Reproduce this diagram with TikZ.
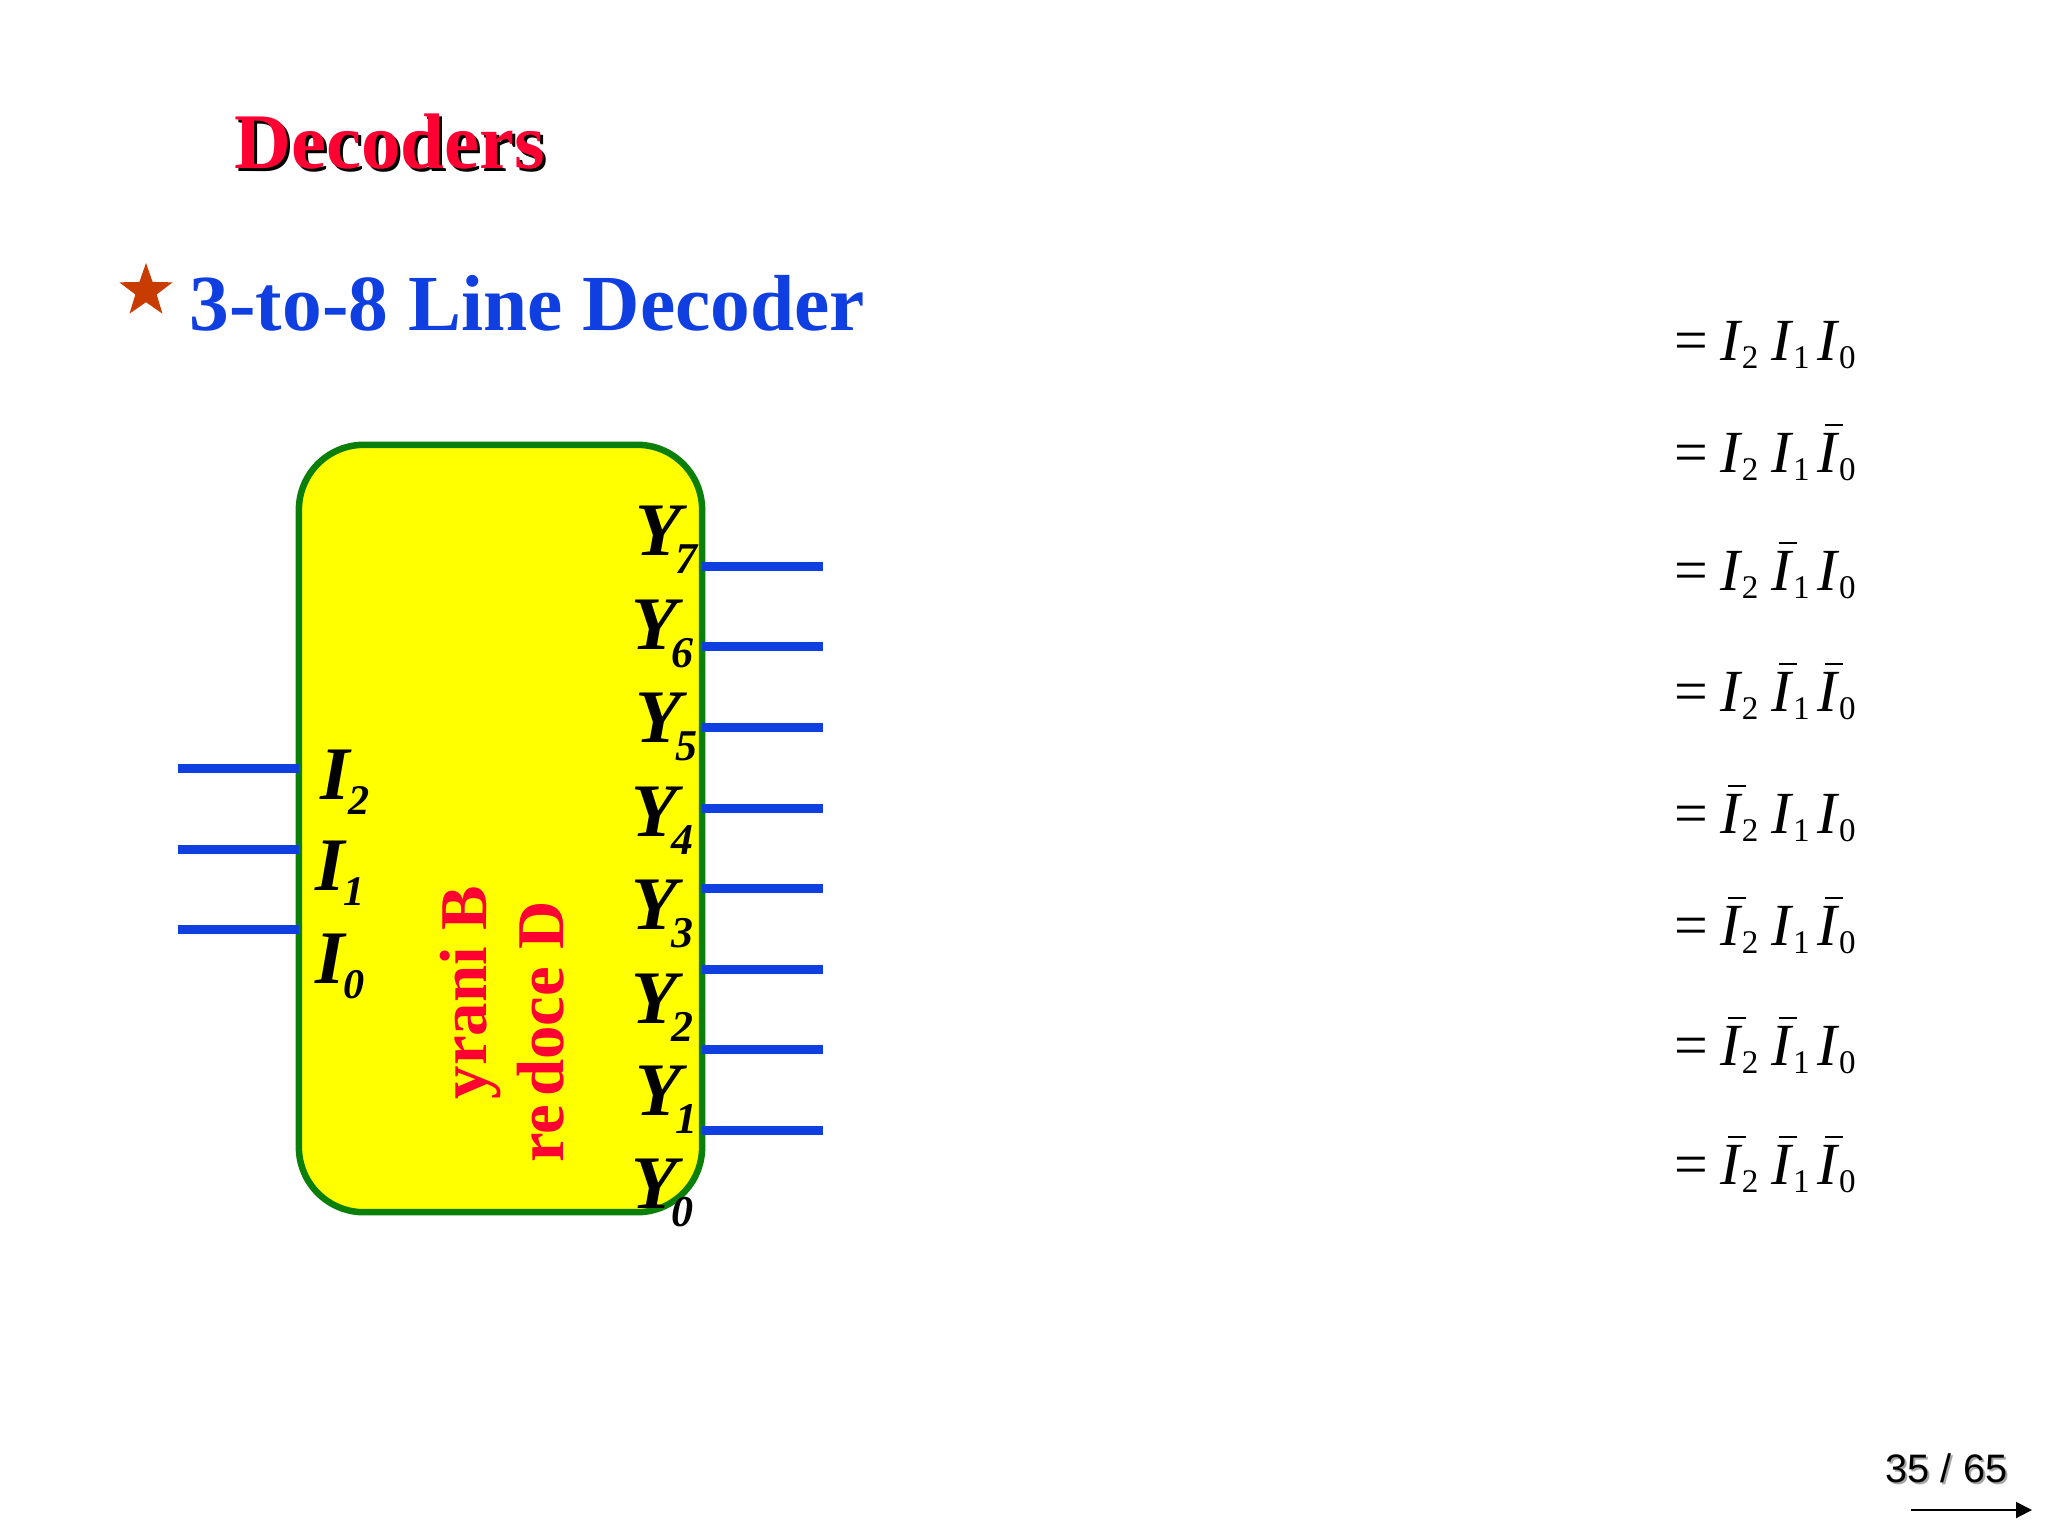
\documentclass[tikz,border=0pt]{standalone}
\usepackage{fontspec}
\setmainfont{Liberation Serif}
\newfontfamily\pagefont{Liberation Sans}
\usetikzlibrary{shapes.geometric,arrows.meta}
\definecolor{titlered}{HTML}{FF0033}
\definecolor{wireblue}{HTML}{0F3FE0}
\definecolor{boxgreen}{HTML}{0A7F0A}
\definecolor{boxyellow}{HTML}{FFFF00}
\definecolor{starred}{HTML}{C83C00}
\tikzstyle{headtxt}=[anchor=base west,
	       inner sep=0,
	       font=\fontsize{22.6}{24}\selectfont\bfseries]
\tikzstyle{wire}=[draw=wireblue,
	       line width=0.09cm]
\tikzstyle{plab}=[anchor=base west,
	       inner sep=0,
	       font=\fontsize{21.5}{24}\selectfont\bfseries\itshape]
\tikzstyle{blockname}=[anchor=east,
	       inner sep=0,
	       rotate=90,
	       text=titlered,
	       font=\fontsize{19}{20}\selectfont\bfseries]
\tikzstyle{eqn}=[anchor=base west,
	       inner sep=0,
	       font=\fontsize{17}{18}\selectfont]
\newcommand{\psub}[2]{#1\kern-0.06cm\raisebox{-0.18cm}{\fontsize{12.5}{14}\selectfont #2}}
\newcommand{\isub}[1]{I\kern-0.02cm\raisebox{-0.15cm}{\fontsize{12}{14}\selectfont #1}}
\newcommand{\eqsign}{\makebox[0.46cm][l]{=}}
\newcommand{\eqI}[2]{\makebox[#1][l]{\textit{I}\kern-0.01cm\raisebox{-0.08cm}{\fontsize{9.4}{10}\selectfont #2}}}
\newcommand{\eqB}[2]{\makebox[#1][l]{\rlap{\kern0.07cm\raisebox{0.46cm}{\rule{0.18cm}{0.02cm}}}\textit{I}\kern-0.01cm\raisebox{-0.08cm}{\fontsize{9.4}{10}\selectfont #2}}}
\begin{document}
\begin{tikzpicture}[x=0.01cm,y=-0.01cm]
\useasboundingbox (0,0) rectangle (2048,1536);

% headings, the first one with its shadow
\node[headtxt,text=black,font=\fontsize{22.4}{24}\selectfont\bfseries] (headshadow) at (237,171) {Decoders};
\node[headtxt,text=titlered,font=\fontsize{22.4}{24}\selectfont\bfseries] (head) at (234,168) {Decoders};
\node[shape=star,star points=5,star point ratio=2.5,fill=starred,inner sep=0,minimum size=0.56cm] (bullet) at (146,291) {};
\node[headtxt,text=wireblue] (subhead) at (189,330) {3-to-8 Line Decoder};

% the decoder block
\node[draw=boxgreen,fill=boxyellow,line width=0.065cm,rounded corners=0.65cm,outer sep=0,
      minimum width=4.03cm,minimum height=7.67cm] (dec) at (500.5,828.5) {};

% input wires
\coordinate (wi2) at (178,768);
\coordinate (wi1) at (178,849);
\coordinate (wi0) at (178,929);
\draw[wire] (wi2) -- (wi2 -| dec.west);
\draw[wire] (wi1) -- (wi1 -| dec.west);
\draw[wire] (wi0) -- (wi0 -| dec.west);

% output wires
\coordinate (wy7) at (823,566);
\coordinate (wy6) at (823,646);
\coordinate (wy5) at (823,727);
\coordinate (wy4) at (823,808);
\coordinate (wy3) at (823,888);
\coordinate (wy2) at (823,969);
\coordinate (wy1) at (823,1049);
\coordinate (wy0) at (823,1130);
\draw[wire] (wy7) -- (wy7 -| dec.east);
\draw[wire] (wy6) -- (wy6 -| dec.east);
\draw[wire] (wy5) -- (wy5 -| dec.east);
\draw[wire] (wy4) -- (wy4 -| dec.east);
\draw[wire] (wy3) -- (wy3 -| dec.east);
\draw[wire] (wy2) -- (wy2 -| dec.east);
\draw[wire] (wy1) -- (wy1 -| dec.east);
\draw[wire] (wy0) -- (wy0 -| dec.east);

% pin labels
\node[plab] (li2) at (320,799) {\isub{2}};
\node[plab] (li1) at (315,890) {\isub{1}};
\node[plab] (li0) at (315,983) {\isub{0}};
\node[plab] (ly7) at (635,555) {\psub{Y}{7}};
\node[plab] (ly6) at (631,649) {\psub{Y}{6}};
\node[plab] (ly5) at (635,742) {\psub{Y}{5}};
\node[plab] (ly4) at (631,836) {\psub{Y}{4}};
\node[plab] (ly3) at (631,929) {\psub{Y}{3}};
\node[plab] (ly2) at (631,1023) {\psub{Y}{2}};
\node[plab] (ly1) at (635,1115) {\psub{Y}{1}};
\node[plab] (ly0) at (631,1208) {\psub{Y}{0}};

% block name
\node[blockname] (nameb) at (471,885) {yrani B};
\node[blockname] (named) at (541,901) {re\kern0.08cm doce D};

% output terms
\node[eqn] (t7) at (1674,360) {\eqsign\eqI{0.51cm}{2}\eqI{0.46cm}{1}\eqI{0.4cm}{0}};
\node[eqn] (t6) at (1674,472) {\eqsign\eqI{0.51cm}{2}\eqI{0.46cm}{1}\eqB{0.4cm}{0}};
\node[eqn] (t5) at (1674,590) {\eqsign\eqI{0.51cm}{2}\eqB{0.46cm}{1}\eqI{0.4cm}{0}};
\node[eqn] (t4) at (1674,711) {\eqsign\eqI{0.51cm}{2}\eqB{0.46cm}{1}\eqB{0.4cm}{0}};
\node[eqn] (t3) at (1674,833) {\eqsign\eqB{0.51cm}{2}\eqI{0.46cm}{1}\eqI{0.4cm}{0}};
\node[eqn] (t2) at (1674,945) {\eqsign\eqB{0.51cm}{2}\eqI{0.46cm}{1}\eqB{0.4cm}{0}};
\node[eqn] (t1) at (1674,1065) {\eqsign\eqB{0.51cm}{2}\eqB{0.46cm}{1}\eqI{0.4cm}{0}};
\node[eqn] (t0) at (1674,1184) {\eqsign\eqB{0.51cm}{2}\eqB{0.46cm}{1}\eqB{0.4cm}{0}};

% page number and next arrow
\node[anchor=base west,inner sep=0,text=black!35,font=\fontsize{11.3}{12}\selectfont\pagefont] (pageshadow) at (1887,1484) {35 / 65};
\node[anchor=base west,inner sep=0,font=\fontsize{11.3}{12}\selectfont\pagefont] (page) at (1885,1482) {35 / 65};
\coordinate (nextfrom) at (1911,1510);
\coordinate (nextto) at (2032,1510);
\draw[line width=0.02cm,-{Triangle[length=0.16cm,width=0.16cm]}] (nextfrom) -- (nextto);

\end{tikzpicture}
\end{document}
